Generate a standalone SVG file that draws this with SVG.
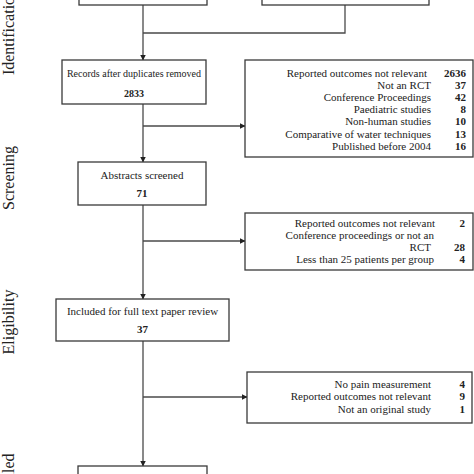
<svg xmlns="http://www.w3.org/2000/svg" width="474" height="474" viewBox="0 0 474 474">
<style>
.box{fill:#fff;stroke:#3a3a3a;stroke-width:1.3}
.ln{fill:none;stroke:#4a4a4a;stroke-width:1.3}
.t{font-family:"Liberation Serif",serif;font-size:11px;fill:#222}
.b{font-family:"Liberation Serif",serif;font-size:11px;font-weight:bold;fill:#222}
.side{font-family:"Liberation Serif",serif;font-size:16px;fill:#222}
.m{text-anchor:middle}
.e{text-anchor:end}
</style>
<defs>
<marker id="ah" markerWidth="6" markerHeight="6" refX="5.5" refY="3" orient="auto" markerUnits="userSpaceOnUse">
<path d="M0,0 L6,3 L0,6 Z" fill="#222"/>
</marker>
</defs>
<rect width="474" height="474" fill="#fff"/>
<g id="side-labels">
<text class="side m" transform="translate(14,32) rotate(-90)">Identification</text>
<text class="side m" transform="translate(14,178) rotate(-90)">Screening</text>
<text class="side m" transform="translate(14,322) rotate(-90)">Eligibility</text>
<text class="side m" transform="translate(14,481) rotate(-90)">Enrolled</text>
</g>
<g id="connectors">
<path class="ln" d="M143,5 V60" marker-end="url(#ah)"/>
<path class="ln" d="M345,5 V33 H143"/>
<path class="ln" d="M143,104 V162" marker-end="url(#ah)"/>
<path class="ln" d="M143,126 H245" marker-end="url(#ah)"/>
<path class="ln" d="M143,205 V299" marker-end="url(#ah)"/>
<path class="ln" d="M143,241 H245" marker-end="url(#ah)"/>
<path class="ln" d="M143,341 V466" marker-end="url(#ah)"/>
<path class="ln" d="M143,397 H247" marker-end="url(#ah)"/>
</g>
<g id="top-left"><rect class="box" x="79" y="-30" width="128" height="35"/></g>
<g id="top-right"><rect class="box" x="262" y="-30" width="167" height="35"/></g>
<g id="records">
<rect class="box" x="62" y="60" width="144" height="44"/>
<text class="t m" x="134" y="76.5" style="font-size:10px">Records after duplicates removed</text>
<text class="b m" x="134" y="96.5" style="font-size:10px">2833</text>
</g>
<g id="excl1">
<rect class="box" x="245" y="60" width="228" height="97"/>
<text class="t e" x="427" y="76.5">Reported outcomes not relevant</text>
<text class="t e" x="431" y="88.7">Not an RCT</text>
<text class="t e" x="431" y="100.9">Conference Proceedings</text>
<text class="t e" x="431" y="113.1">Paediatric studies</text>
<text class="t e" x="431" y="125.3">Non-human studies</text>
<text class="t e" x="431" y="137.5">Comparative of water techniques</text>
<text class="t e" x="431" y="149.7">Published before 2004</text>
<text class="b e" x="466" y="76.5">2636</text>
<text class="b e" x="466" y="88.7">37</text>
<text class="b e" x="466" y="100.9">42</text>
<text class="b e" x="466" y="113.1">8</text>
<text class="b e" x="466" y="125.3">10</text>
<text class="b e" x="466" y="137.5">13</text>
<text class="b e" x="466" y="149.7">16</text>
</g>
<g id="abstracts">
<rect class="box" x="78" y="162" width="128" height="43"/>
<text class="t m" x="142" y="179">Abstracts screened</text>
<text class="b m" x="142" y="197">71</text>
</g>
<g id="excl2">
<rect class="box" x="245" y="213" width="228" height="57"/>
<text class="t e" x="435" y="226.7">Reported outcomes not relevant</text>
<text class="t e" x="434" y="238.7">Conference proceedings or not an</text>
<text class="t e" x="431" y="250.7">RCT</text>
<text class="t e" x="434" y="262.7">Less than 25 patients per group</text>
<text class="b e" x="465" y="226.7">2</text>
<text class="b e" x="465" y="250.7">28</text>
<text class="b e" x="465" y="262.7">4</text>
</g>
<g id="fulltext">
<rect class="box" x="56" y="299" width="173" height="42"/>
<text class="t m" x="142.5" y="315">Included for full text paper review</text>
<text class="b m" x="142.5" y="333">37</text>
</g>
<g id="excl3">
<rect class="box" x="247" y="372" width="225" height="51"/>
<text class="t e" x="431" y="387.5">No pain measurement</text>
<text class="t e" x="431" y="400">Reported outcomes not relevant</text>
<text class="t e" x="431" y="412.5">Not an original study</text>
<text class="b e" x="465" y="387.5">4</text>
<text class="b e" x="465" y="400">9</text>
<text class="b e" x="465" y="412.5">1</text>
</g>
<g id="included"><rect class="box" x="78" y="466" width="129" height="30"/></g>
</svg>
